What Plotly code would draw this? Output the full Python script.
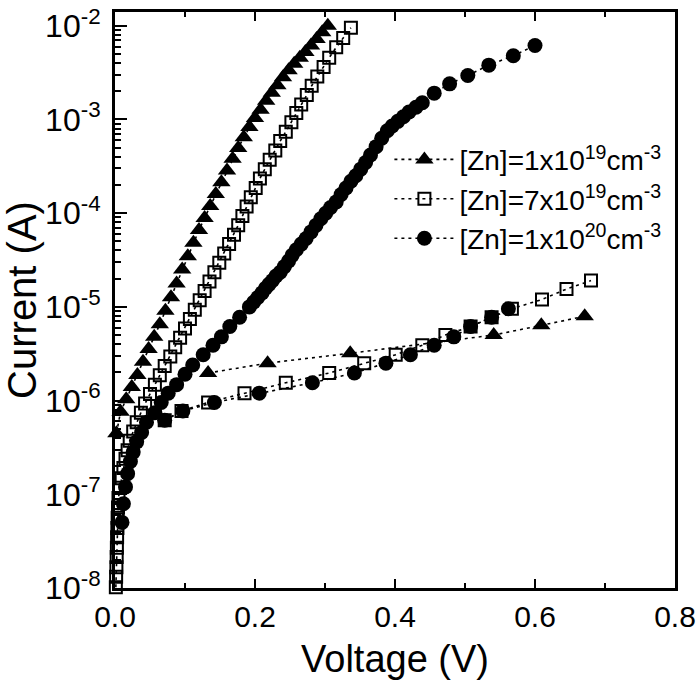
import plotly.graph_objects as go

# ---------------- data ----------------
# [Zn]=1x10^19 cm^-3 (filled triangles) - upper branch
tri_up_V = [0.002, 0.008, 0.016, 0.024, 0.032, 0.040, 0.048, 0.056, 0.064, 0.072,
            0.080, 0.088, 0.096, 0.104, 0.112, 0.120, 0.128, 0.136, 0.144, 0.152,
            0.160, 0.168, 0.176, 0.184, 0.192, 0.200, 0.208, 0.216, 0.224, 0.232,
            0.240, 0.248, 0.256, 0.264, 0.272, 0.280, 0.288, 0.296, 0.304]
tri_up_I = [4.47e-7, 7.59e-7, 1.035e-6, 1.40e-6, 1.88e-6, 2.60e-6, 3.55e-6, 4.79e-6, 6.53e-6, 9.12e-6,
            1.27e-5, 1.78e-5, 2.51e-5, 3.47e-5, 4.84e-5, 6.61e-5, 8.91e-5, 1.19e-4, 1.60e-4, 2.14e-4,
            2.85e-4, 3.80e-4, 4.95e-4, 6.46e-4, 8.32e-4, 1.035e-3, 1.27e-3, 1.585e-3, 1.93e-3, 2.32e-3,
            2.82e-3, 3.35e-3, 3.94e-3, 4.57e-3, 5.25e-3, 6.17e-3, 7.24e-3, 8.51e-3, 1.0e-2]
# lower branch
tri_lo_V = [0.133, 0.218, 0.336, 0.541, 0.609, 0.671]
tri_lo_I = [1.97e-6, 2.51e-6, 3.20e-6, 5.01e-6, 6.35e-6, 7.94e-6]

# [Zn]=7x10^19 cm^-3 (open squares) - upper branch
sq_up_V = [0.0012, 0.0016, 0.0020, 0.0024, 0.0027, 0.0030, 0.0034, 0.0038, 0.0043, 0.0050,
           0.007, 0.0095, 0.012, 0.015, 0.018, 0.021, 0.026, 0.031, 0.037, 0.043,
           0.050, 0.057, 0.064, 0.071, 0.079, 0.086, 0.093, 0.100, 0.107, 0.114,
           0.121, 0.128, 0.135, 0.142, 0.149, 0.156, 0.163, 0.170, 0.176, 0.182,
           0.188, 0.194, 0.201, 0.207, 0.214, 0.221, 0.229, 0.236, 0.244, 0.252,
           0.259, 0.266, 0.274, 0.281, 0.289, 0.298, 0.306, 0.316, 0.326, 0.337]
sq_up_I = [1.02e-8, 1.32e-8, 1.66e-8, 2.14e-8, 2.69e-8, 3.47e-8, 4.37e-8, 5.62e-8, 7.24e-8, 9.12e-8,
           1.175e-7, 1.48e-7, 1.91e-7, 2.40e-7, 2.95e-7, 3.72e-7, 4.68e-7, 5.89e-7, 7.41e-7, 9.33e-7,
           1.175e-6, 1.479e-6, 1.862e-6, 2.344e-6, 2.951e-6, 3.715e-6, 4.677e-6, 5.888e-6, 7.413e-6, 9.333e-6,
           1.175e-5, 1.479e-5, 1.862e-5, 2.344e-5, 2.951e-5, 3.715e-5, 4.677e-5, 5.888e-5, 7.413e-5, 9.333e-5,
           1.175e-4, 1.479e-4, 1.862e-4, 2.344e-4, 2.951e-4, 3.715e-4, 4.677e-4, 5.888e-4, 7.413e-4, 9.333e-4,
           1.175e-3, 1.445e-3, 1.820e-3, 2.291e-3, 2.884e-3, 3.631e-3, 4.571e-3, 5.888e-3, 7.413e-3, 9.550e-3]
# lower branch
sq_lo_V = [0.071, 0.095, 0.133, 0.185, 0.244, 0.306, 0.356, 0.401, 0.439, 0.472,
           0.508, 0.538, 0.567, 0.610, 0.645, 0.680]
sq_lo_I = [6.17e-7, 7.76e-7, 9.55e-7, 1.20e-6, 1.55e-6, 1.97e-6, 2.51e-6, 3.09e-6, 3.89e-6, 5.01e-6,
           6.17e-6, 7.76e-6, 9.55e-6, 1.20e-5, 1.55e-5, 1.91e-5]

# [Zn]=1x10^20 cm^-3 (filled circles) - upper branch
ci_up_V = [0.010, 0.012, 0.015, 0.018, 0.022, 0.026, 0.031, 0.038, 0.045, 0.057,
           0.066, 0.076, 0.088, 0.100, 0.111, 0.126, 0.140, 0.152, 0.164, 0.178,
           0.192, 0.198, 0.204, 0.210, 0.215, 0.220, 0.225, 0.230, 0.236, 0.242,
           0.248, 0.253, 0.259, 0.266, 0.273, 0.280, 0.287, 0.294, 0.301, 0.308,
           0.316, 0.323, 0.330, 0.337, 0.344, 0.351, 0.358, 0.365, 0.373, 0.381,
           0.389, 0.396, 0.404, 0.412, 0.420, 0.430, 0.439, 0.456, 0.478, 0.504,
           0.534, 0.569, 0.600]
ci_up_I = [5.01e-8, 7.94e-8, 1.20e-7, 1.66e-7, 2.24e-7, 2.82e-7, 3.63e-7, 4.57e-7, 5.89e-7, 7.41e-7,
           9.55e-7, 1.20e-6, 1.48e-6, 1.91e-6, 2.40e-6, 3.09e-6, 3.89e-6, 4.79e-6, 6.17e-6, 7.76e-6,
           1.00e-5, 1.12e-5, 1.26e-5, 1.41e-5, 1.58e-5, 1.74e-5, 1.91e-5, 2.14e-5, 2.34e-5, 2.69e-5,
           3.09e-5, 3.55e-5, 4.07e-5, 4.68e-5, 5.37e-5, 6.31e-5, 7.41e-5, 8.71e-5, 1.00e-4, 1.15e-4,
           1.32e-4, 1.58e-4, 1.86e-4, 2.19e-4, 2.51e-4, 2.95e-4, 3.47e-4, 4.17e-4, 5.13e-4, 6.31e-4,
           7.59e-4, 8.51e-4, 9.55e-4, 1.07e-3, 1.20e-3, 1.35e-3, 1.51e-3, 1.91e-3, 2.40e-3, 2.95e-3,
           3.80e-3, 4.79e-3, 6.17e-3]
# lower branch
ci_lo_V = [0.071, 0.097, 0.142, 0.206, 0.282, 0.342, 0.387, 0.422, 0.456, 0.484,
           0.508, 0.538, 0.562]
ci_lo_I = [6.17e-7, 7.76e-7, 9.55e-7, 1.20e-6, 1.55e-6, 1.97e-6, 2.51e-6, 3.09e-6, 3.89e-6, 4.79e-6,
           6.17e-6, 7.76e-6, 9.55e-6]

series_names = ["[Zn]=1x10<sup>19</sup>cm<sup>-3</sup>",
                "[Zn]=7x10<sup>19</sup>cm<sup>-3</sup>",
                "[Zn]=1x10<sup>20</sup>cm<sup>-3</sup>"]

x_ticks = [0.0, 0.2, 0.4, 0.6, 0.8]
x_ticktext = ["0.0", "0.2", "0.4", "0.6", "0.8"]
y_tickvals = [1e-8, 1e-7, 1e-6, 1e-5, 1e-4, 1e-3, 1e-2]
y_ticktext = ["10<sup>-8</sup>", "10<sup>-7</sup>", "10<sup>-6</sup>", "10<sup>-5</sup>",
              "10<sup>-4</sup>", "10<sup>-3</sup>", "10<sup>-2</sup>"]
y_minor = [m * 10.0 ** e for e in range(-8, -1) for m in range(2, 10)]

# ---------------- figure ----------------
BLACK = "black"
line_style = dict(color=BLACK, width=1.6, dash="3px,4px")

styles = [
    dict(symbol="triangle-up", size=16, color=BLACK, line=dict(width=0)),
    dict(symbol="square-open", size=12, color=BLACK, line=dict(width=2, color=BLACK)),
    dict(symbol="circle", size=15, color=BLACK, line=dict(width=0)),
]
branches = [
    ((tri_up_V, tri_up_I), (tri_lo_V, tri_lo_I)),
    ((sq_up_V, sq_up_I), (sq_lo_V, sq_lo_I)),
    ((ci_up_V, ci_up_I), (ci_lo_V, ci_lo_I)),
]

fig = go.Figure()
for k, (up, lo) in enumerate(branches):
    fig.add_trace(go.Scatter(x=up[0], y=up[1], mode="lines+markers", name=series_names[k],
                             legendgroup=str(k), line=line_style, marker=styles[k],
                             cliponaxis=False))
for k, (up, lo) in enumerate(branches):
    fig.add_trace(go.Scatter(x=lo[0], y=lo[1], mode="lines+markers", name=series_names[k],
                             legendgroup=str(k), showlegend=False, line=line_style,
                             marker=styles[k], cliponaxis=False))

FONT = "Arial, Liberation Sans, sans-serif"
fig.update_layout(
    width=700, height=688,
    margin=dict(l=115, r=23, t=4, b=100),
    paper_bgcolor="white", plot_bgcolor="white",
    font=dict(family=FONT, color=BLACK, size=26),
    showlegend=True,
    legend=dict(x=0.49, y=0.787, xanchor="left", yanchor="top",
                bgcolor="rgba(0,0,0,0)", font=dict(size=28, family=FONT),
                itemwidth=60, tracegroupgap=0),
    xaxis=dict(range=[0, 0.8], tickmode="array", tickvals=x_ticks, ticktext=x_ticktext,
               ticks="inside", ticklen=9, tickwidth=2, tickcolor=BLACK,
               minor=dict(ticks="inside", ticklen=5, tickwidth=2, tickcolor=BLACK, dtick=0.1, showgrid=False),
               showline=True, linewidth=3, linecolor=BLACK, mirror="ticks",
               showgrid=False, zeroline=False,
               tickfont=dict(size=30, family=FONT),
               title=dict(text="Voltage (V)", font=dict(size=38, family=FONT), standoff=14)),
    yaxis=dict(type="log", range=[-8, -1.853], tickmode="array", tickvals=y_tickvals,
               ticktext=y_ticktext, ticks="inside", ticklen=12, tickwidth=2, tickcolor=BLACK,
               ticklabeloverflow="allow", ticklabelstandoff=5,
               minor=dict(ticks="inside", ticklen=6, tickwidth=2, tickcolor=BLACK,
                          tickmode="array", tickvals=y_minor, showgrid=False),
               showline=True, linewidth=3, linecolor=BLACK, mirror=True,
               showgrid=False, zeroline=False,
               tickfont=dict(size=32, family=FONT),
               title=dict(text="Current (A)", font=dict(size=40, family=FONT), standoff=4)),
)

fig.write_html("out.html")
